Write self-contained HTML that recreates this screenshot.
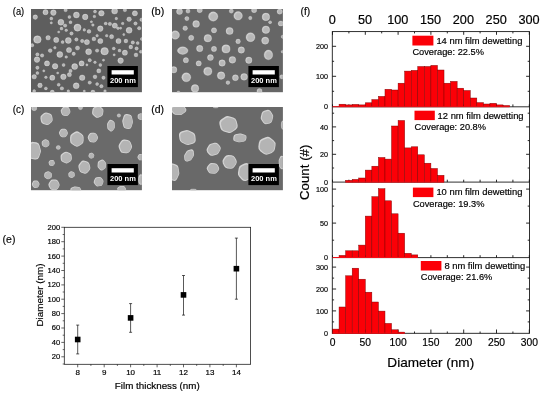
<!DOCTYPE html>
<html lang="en">
<head>
<meta charset="utf-8">
<title>Figure</title>
<style>
html,body{margin:0;padding:0;background:#fff;}
body{width:550px;height:394px;overflow:hidden;}
svg{display:block;font-family:"Liberation Sans",Arial,sans-serif;}
.pl text{stroke:#000;stroke-width:0.18px;}
</style>
</head>
<body>
<svg width="550" height="394" viewBox="0 0 550 394">
<rect width="550" height="394" fill="#fff"/>
<defs><filter id="bl" x="-5%" y="-5%" width="110%" height="110%"><feGaussianBlur stdDeviation="0.55"/></filter><radialGradient id="rg" cx="0.53" cy="0.53" r="0.5"><stop offset="0" stop-color="#b6b6b6"/><stop offset="0.65" stop-color="#bababa"/><stop offset="0.9" stop-color="#cdcdcd"/><stop offset="1" stop-color="#d6d6d6"/></radialGradient>
<clipPath id="cpa"><rect x="31" y="9" width="110.9" height="83.2"/></clipPath>
<clipPath id="cpb"><rect x="172" y="9" width="110.9" height="83.2"/></clipPath>
<clipPath id="cpc"><rect x="31" y="107" width="110.9" height="83.2"/></clipPath>
<clipPath id="cpd"><rect x="172" y="107" width="110.9" height="83.2"/></clipPath>
</defs>
<rect x="31" y="9" width="110.9" height="83.2" fill="#5e5e5e"/>
<g clip-path="url(#cpa)"><g filter="url(#bl)" fill="url(#rg)" stroke="#cfcfcf" stroke-width="0.3">
<ellipse cx="45.5" cy="12.2" rx="2.6" ry="2.6"/>
<ellipse cx="53.4" cy="12.6" rx="2.8" ry="2.8"/>
<ellipse cx="35.3" cy="17.1" rx="2.3" ry="2.3"/>
<ellipse cx="65.6" cy="10.1" rx="1.7" ry="1.7"/>
<ellipse cx="76.4" cy="15.0" rx="3.0" ry="3.0"/>
<ellipse cx="85.2" cy="16.9" rx="2.8" ry="2.8"/>
<ellipse cx="95.0" cy="11.6" rx="1.5" ry="1.5"/>
<ellipse cx="101.4" cy="13.3" rx="2.8" ry="2.8"/>
<ellipse cx="114.6" cy="11.1" rx="3.0" ry="3.0"/>
<ellipse cx="124.9" cy="10.1" rx="1.7" ry="1.7"/>
<ellipse cx="134.9" cy="13.3" rx="2.6" ry="2.6"/>
<ellipse cx="51.3" cy="18.6" rx="1.5" ry="1.5"/>
<ellipse cx="69.4" cy="16.9" rx="1.5" ry="1.5"/>
<ellipse cx="94.4" cy="16.5" rx="1.3" ry="1.3"/>
<ellipse cx="116.3" cy="18.6" rx="1.3" ry="1.3"/>
<ellipse cx="129.1" cy="19.2" rx="2.3" ry="2.3"/>
<ellipse cx="141.5" cy="19.7" rx="1.7" ry="1.7"/>
<ellipse cx="60.9" cy="22.2" rx="3.0" ry="3.0"/>
<ellipse cx="70.5" cy="22.2" rx="1.5" ry="1.5"/>
<ellipse cx="77.5" cy="27.6" rx="3.6" ry="3.6"/>
<ellipse cx="91.4" cy="21.8" rx="1.1" ry="1.1"/>
<ellipse cx="92.9" cy="25.0" rx="1.3" ry="1.3"/>
<ellipse cx="100.3" cy="28.6" rx="2.8" ry="2.8"/>
<ellipse cx="105.7" cy="23.5" rx="1.5" ry="1.5"/>
<ellipse cx="109.9" cy="23.9" rx="1.7" ry="1.7"/>
<ellipse cx="114.8" cy="25.6" rx="2.6" ry="2.6"/>
<ellipse cx="122.7" cy="23.5" rx="1.3" ry="1.3"/>
<ellipse cx="129.1" cy="30.3" rx="3.0" ry="3.0"/>
<ellipse cx="135.5" cy="23.5" rx="1.7" ry="1.7"/>
<ellipse cx="139.2" cy="28.2" rx="1.7" ry="1.7"/>
<ellipse cx="51.3" cy="22.9" rx="1.1" ry="1.1"/>
<ellipse cx="65.1" cy="25.6" rx="1.7" ry="1.7"/>
<ellipse cx="61.5" cy="28.6" rx="1.5" ry="1.5"/>
<ellipse cx="84.3" cy="29.9" rx="1.3" ry="1.3"/>
<ellipse cx="89.0" cy="31.4" rx="1.9" ry="1.9"/>
<ellipse cx="66.2" cy="30.3" rx="1.3" ry="1.3"/>
<ellipse cx="71.5" cy="33.5" rx="1.7" ry="1.7"/>
<ellipse cx="58.7" cy="32.0" rx="1.1" ry="1.1"/>
<ellipse cx="120.6" cy="28.2" rx="1.1" ry="1.1"/>
<ellipse cx="118.0" cy="28.2" rx="1.3" ry="1.3"/>
<ellipse cx="37.4" cy="39.5" rx="3.8" ry="3.8"/>
<ellipse cx="48.1" cy="37.8" rx="2.3" ry="2.3"/>
<ellipse cx="56.2" cy="39.9" rx="2.6" ry="2.6"/>
<ellipse cx="62.6" cy="42.1" rx="1.5" ry="1.5"/>
<ellipse cx="68.3" cy="40.4" rx="3.0" ry="3.0"/>
<ellipse cx="76.4" cy="39.5" rx="1.7" ry="1.7"/>
<ellipse cx="82.2" cy="41.0" rx="1.7" ry="1.7"/>
<ellipse cx="86.9" cy="42.1" rx="2.6" ry="2.6"/>
<ellipse cx="93.9" cy="38.9" rx="1.9" ry="1.9"/>
<ellipse cx="100.3" cy="41.0" rx="2.6" ry="2.6"/>
<ellipse cx="97.1" cy="35.7" rx="1.3" ry="1.3"/>
<ellipse cx="106.7" cy="35.7" rx="1.3" ry="1.3"/>
<ellipse cx="111.6" cy="36.7" rx="2.1" ry="2.1"/>
<ellipse cx="118.5" cy="41.0" rx="2.6" ry="2.6"/>
<ellipse cx="125.9" cy="41.0" rx="1.9" ry="1.9"/>
<ellipse cx="132.8" cy="42.5" rx="1.7" ry="1.7"/>
<ellipse cx="137.7" cy="43.1" rx="1.5" ry="1.5"/>
<ellipse cx="123.8" cy="34.6" rx="1.1" ry="1.1"/>
<ellipse cx="141.9" cy="38.9" rx="1.5" ry="1.5"/>
<ellipse cx="32.1" cy="45.3" rx="1.7" ry="1.7"/>
<ellipse cx="50.2" cy="50.6" rx="1.9" ry="1.9"/>
<ellipse cx="54.9" cy="47.8" rx="1.3" ry="1.3"/>
<ellipse cx="59.8" cy="54.4" rx="3.0" ry="3.0"/>
<ellipse cx="69.0" cy="50.0" rx="2.6" ry="2.6"/>
<ellipse cx="73.7" cy="53.8" rx="1.7" ry="1.7"/>
<ellipse cx="77.5" cy="48.0" rx="2.1" ry="2.1"/>
<ellipse cx="88.6" cy="51.7" rx="3.0" ry="3.0"/>
<ellipse cx="97.1" cy="50.6" rx="1.7" ry="1.7"/>
<ellipse cx="104.6" cy="51.2" rx="3.8" ry="3.8"/>
<ellipse cx="113.8" cy="48.5" rx="1.5" ry="1.5"/>
<ellipse cx="119.5" cy="50.6" rx="1.5" ry="1.5"/>
<ellipse cx="124.9" cy="52.7" rx="2.6" ry="2.6"/>
<ellipse cx="130.8" cy="47.0" rx="1.9" ry="1.9"/>
<ellipse cx="136.6" cy="48.5" rx="1.7" ry="1.7"/>
<ellipse cx="136.0" cy="54.9" rx="1.9" ry="1.9"/>
<ellipse cx="140.9" cy="51.7" rx="1.5" ry="1.5"/>
<ellipse cx="37.4" cy="54.4" rx="1.7" ry="1.7"/>
<ellipse cx="42.1" cy="55.5" rx="1.7" ry="1.7"/>
<ellipse cx="66.2" cy="57.0" rx="1.3" ry="1.3"/>
<ellipse cx="114.2" cy="54.9" rx="1.1" ry="1.1"/>
<ellipse cx="37.0" cy="59.6" rx="2.8" ry="2.8"/>
<ellipse cx="47.0" cy="63.4" rx="2.6" ry="2.6"/>
<ellipse cx="55.1" cy="66.2" rx="2.8" ry="2.8"/>
<ellipse cx="63.6" cy="64.9" rx="1.5" ry="1.5"/>
<ellipse cx="74.7" cy="66.6" rx="3.0" ry="3.0"/>
<ellipse cx="81.6" cy="63.4" rx="2.6" ry="2.6"/>
<ellipse cx="89.7" cy="60.2" rx="1.7" ry="1.7"/>
<ellipse cx="95.0" cy="62.3" rx="1.3" ry="1.3"/>
<ellipse cx="100.3" cy="64.9" rx="1.5" ry="1.5"/>
<ellipse cx="70.5" cy="70.9" rx="1.7" ry="1.7"/>
<ellipse cx="120.6" cy="60.6" rx="2.8" ry="2.8"/>
<ellipse cx="37.4" cy="67.7" rx="1.7" ry="1.7"/>
<ellipse cx="86.9" cy="64.9" rx="1.1" ry="1.1"/>
<ellipse cx="103.5" cy="60.2" rx="1.1" ry="1.1"/>
<ellipse cx="34.2" cy="76.8" rx="2.3" ry="2.3"/>
<ellipse cx="37.4" cy="73.0" rx="1.5" ry="1.5"/>
<ellipse cx="45.9" cy="77.3" rx="1.3" ry="1.3"/>
<ellipse cx="52.3" cy="77.7" rx="2.6" ry="2.6"/>
<ellipse cx="63.4" cy="76.8" rx="2.8" ry="2.8"/>
<ellipse cx="69.4" cy="74.7" rx="2.1" ry="2.1"/>
<ellipse cx="82.2" cy="77.7" rx="2.8" ry="2.8"/>
<ellipse cx="95.0" cy="76.8" rx="1.9" ry="1.9"/>
<ellipse cx="98.8" cy="70.9" rx="2.1" ry="2.1"/>
<ellipse cx="103.5" cy="77.7" rx="1.7" ry="1.7"/>
<ellipse cx="89.7" cy="82.6" rx="1.7" ry="1.7"/>
<ellipse cx="43.8" cy="70.9" rx="1.1" ry="1.1"/>
<ellipse cx="57.7" cy="73.0" rx="1.1" ry="1.1"/>
<ellipse cx="40.0" cy="85.4" rx="2.3" ry="2.3"/>
<ellipse cx="45.9" cy="88.4" rx="1.5" ry="1.5"/>
<ellipse cx="52.3" cy="92.2" rx="2.1" ry="2.1"/>
<ellipse cx="58.7" cy="84.7" rx="1.5" ry="1.5"/>
<ellipse cx="61.9" cy="88.4" rx="1.7" ry="1.7"/>
<ellipse cx="76.2" cy="85.8" rx="3.0" ry="3.0"/>
<ellipse cx="97.1" cy="84.1" rx="1.5" ry="1.5"/>
<ellipse cx="101.4" cy="86.2" rx="1.7" ry="1.7"/>
<ellipse cx="105.0" cy="91.1" rx="1.3" ry="1.3"/>
<ellipse cx="34.2" cy="91.1" rx="1.5" ry="1.5"/>
<ellipse cx="68.3" cy="91.1" rx="1.3" ry="1.3"/>
<ellipse cx="92.9" cy="92.2" rx="2.1" ry="2.1"/>
<ellipse cx="84.3" cy="91.1" rx="1.1" ry="1.1"/>
</g></g>
<rect x="107.4" y="66.0" width="30.5" height="21.1" fill="#000"/>
<rect x="111.6" y="70.2" width="22.2" height="4.3" fill="#fff"/>
<text x="122.9" y="83.0" font-size="7.5" font-weight="bold" fill="#fff" text-anchor="middle">200 nm</text>
<text x="12.8" y="15.0" font-size="10" fill="#000" stroke="#000" stroke-width="0.15" textLength="11.4" lengthAdjust="spacingAndGlyphs">(a)</text>
<rect x="172" y="9" width="110.9" height="83.2" fill="#666"/>
<g clip-path="url(#cpb)"><g filter="url(#bl)" fill="url(#rg)" stroke="#cfcfcf" stroke-width="0.3">
<ellipse cx="179.5" cy="11.6" rx="3.0" ry="3.0"/>
<ellipse cx="188.0" cy="11.1" rx="2.1" ry="2.1"/>
<ellipse cx="199.7" cy="10.1" rx="2.6" ry="2.6"/>
<ellipse cx="213.2" cy="16.5" rx="4.7" ry="4.7"/>
<ellipse cx="231.3" cy="11.1" rx="2.1" ry="2.1"/>
<ellipse cx="238.1" cy="15.8" rx="4.3" ry="4.3"/>
<ellipse cx="250.3" cy="18.0" rx="1.7" ry="1.7"/>
<ellipse cx="254.1" cy="10.1" rx="2.6" ry="2.6"/>
<ellipse cx="265.9" cy="16.9" rx="3.8" ry="3.8"/>
<ellipse cx="270.1" cy="22.2" rx="1.5" ry="1.5"/>
<ellipse cx="279.7" cy="11.6" rx="2.6" ry="2.6"/>
<ellipse cx="280.8" cy="23.5" rx="2.6" ry="2.6"/>
<ellipse cx="186.9" cy="18.6" rx="2.1" ry="2.1"/>
<ellipse cx="196.1" cy="23.9" rx="3.4" ry="3.4"/>
<ellipse cx="185.2" cy="28.2" rx="2.3" ry="2.3"/>
<ellipse cx="175.2" cy="35.0" rx="4.3" ry="4.3"/>
<ellipse cx="191.2" cy="37.8" rx="2.6" ry="2.6"/>
<ellipse cx="214.0" cy="30.3" rx="2.6" ry="2.6"/>
<ellipse cx="229.6" cy="31.0" rx="3.6" ry="3.6"/>
<ellipse cx="207.8" cy="38.2" rx="3.8" ry="3.8"/>
<ellipse cx="238.1" cy="41.4" rx="2.3" ry="2.3"/>
<ellipse cx="250.5" cy="37.2" rx="4.5" ry="4.5"/>
<ellipse cx="265.9" cy="29.7" rx="3.8" ry="3.8"/>
<ellipse cx="265.2" cy="40.6" rx="3.6" ry="3.6"/>
<ellipse cx="282.9" cy="36.7" rx="1.7" ry="1.7"/>
<ellipse cx="182.7" cy="50.6" rx="5.3" ry="3.8"/>
<ellipse cx="199.7" cy="48.5" rx="3.2" ry="3.2"/>
<ellipse cx="214.0" cy="48.9" rx="2.6" ry="2.6"/>
<ellipse cx="226.0" cy="48.9" rx="4.1" ry="4.1"/>
<ellipse cx="241.3" cy="50.0" rx="3.2" ry="3.2"/>
<ellipse cx="268.4" cy="54.9" rx="4.3" ry="4.9"/>
<ellipse cx="185.9" cy="60.2" rx="2.6" ry="2.6"/>
<ellipse cx="198.7" cy="63.4" rx="2.6" ry="2.6"/>
<ellipse cx="210.4" cy="57.6" rx="3.0" ry="3.0"/>
<ellipse cx="222.1" cy="63.0" rx="3.2" ry="3.2"/>
<ellipse cx="232.4" cy="59.8" rx="3.4" ry="3.4"/>
<ellipse cx="248.8" cy="60.2" rx="3.2" ry="3.2"/>
<ellipse cx="173.7" cy="69.8" rx="3.2" ry="3.2"/>
<ellipse cx="186.3" cy="77.3" rx="4.5" ry="4.5"/>
<ellipse cx="207.8" cy="71.3" rx="4.1" ry="4.1"/>
<ellipse cx="221.1" cy="75.6" rx="3.8" ry="3.8"/>
<ellipse cx="227.9" cy="82.6" rx="1.9" ry="1.9"/>
<ellipse cx="235.4" cy="77.7" rx="3.0" ry="3.0"/>
<ellipse cx="244.1" cy="76.8" rx="3.4" ry="3.4"/>
<ellipse cx="195.0" cy="88.4" rx="3.8" ry="3.8"/>
<ellipse cx="178.4" cy="92.6" rx="1.7" ry="1.7"/>
<ellipse cx="259.5" cy="91.1" rx="2.6" ry="2.6"/>
<ellipse cx="281.9" cy="76.8" rx="2.1" ry="2.1"/>
<ellipse cx="282.5" cy="51.7" rx="1.3" ry="1.3"/>
</g></g>
<rect x="248.4" y="66.0" width="30.5" height="21.1" fill="#000"/>
<rect x="252.6" y="70.2" width="22.2" height="4.3" fill="#fff"/>
<text x="263.9" y="83.0" font-size="7.5" font-weight="bold" fill="#fff" text-anchor="middle">200 nm</text>
<text x="151.2" y="15.0" font-size="10" fill="#000" stroke="#000" stroke-width="0.15" textLength="13.0" lengthAdjust="spacingAndGlyphs">(b)</text>
<rect x="31" y="107" width="110.9" height="83.2" fill="#6a6a6a"/>
<g clip-path="url(#cpc)"><g filter="url(#bl)" fill="url(#rg)" stroke="#cfcfcf" stroke-width="0.3">
<polygon points="49.1,119.6 47.1,121.4 44.5,120.5 44.0,117.8 46.1,116.1 48.6,117.0" stroke="#d4d4d4" fill="#d4d4d4" stroke-width="7.2" stroke-linejoin="round"/>
<polygon points="49.0,119.7 47.2,121.2 45.1,120.4 44.6,118.2 46.4,116.7 48.6,117.4" stroke="#b4b4b4" fill="#b4b4b4" stroke-width="6.2" stroke-linejoin="round"/>
<polygon points="67.6,111.6 66.3,113.2 64.2,112.9 63.5,110.9 64.8,109.3 66.9,109.6" stroke="#d4d4d4" fill="#d4d4d4" stroke-width="5.6" stroke-linejoin="round"/>
<polygon points="67.6,111.8 66.5,113.2 64.7,112.9 64.0,111.2 65.2,109.8 67.0,110.1" stroke="#b4b4b4" fill="#b4b4b4" stroke-width="4.8" stroke-linejoin="round"/>
<polygon points="99.7,113.4 97.4,114.4 95.4,112.7 95.8,110.0 98.2,109.0 100.1,110.7" stroke="#d4d4d4" fill="#d4d4d4" stroke-width="6.7" stroke-linejoin="round"/>
<polygon points="99.7,113.4 97.7,114.2 96.0,112.7 96.4,110.4 98.4,109.6 100.0,111.1" stroke="#b4b4b4" fill="#b4b4b4" stroke-width="5.7" stroke-linejoin="round"/>
<ellipse cx="118.9" cy="115.5" rx="1.7" ry="1.7"/>
<polygon points="129.9,121.9 128.6,126.0 126.3,125.6 125.3,121.1 126.6,117.0 128.9,117.4" stroke="#d4d4d4" fill="#d4d4d4" stroke-width="6.1" stroke-linejoin="round"/>
<polygon points="129.9,122.0 128.7,125.6 126.8,125.3 125.9,121.4 127.0,117.8 129.0,118.2" stroke="#b4b4b4" fill="#b4b4b4" stroke-width="5.3" stroke-linejoin="round"/>
<polygon points="142.1,117.4 140.8,118.0 139.6,117.3 139.6,115.8 140.9,115.2 142.1,115.9" stroke="#d4d4d4" fill="#d4d4d4" stroke-width="3.8" stroke-linejoin="round"/>
<polygon points="142.2,117.5 141.1,118.0 140.0,117.4 140.1,116.1 141.2,115.6 142.2,116.2" stroke="#b4b4b4" fill="#b4b4b4" stroke-width="3.3" stroke-linejoin="round"/>
<polygon points="112.6,126.9 111.2,129.0 109.6,127.7 109.4,124.2 110.8,122.1 112.4,123.4" stroke="#d4d4d4" fill="#d4d4d4" stroke-width="4.6" stroke-linejoin="round"/>
<polygon points="112.6,126.9 111.5,128.8 110.1,127.6 109.9,124.6 111.0,122.8 112.4,123.9" stroke="#b4b4b4" fill="#b4b4b4" stroke-width="4.0" stroke-linejoin="round"/>
<polygon points="65.3,133.1 64.3,134.7 62.4,134.6 61.5,132.9 62.6,131.3 64.5,131.4" stroke="#d4d4d4" fill="#d4d4d4" stroke-width="5.1" stroke-linejoin="round"/>
<polygon points="65.3,133.3 64.4,134.7 62.8,134.6 62.0,133.1 62.9,131.7 64.6,131.8" stroke="#b4b4b4" fill="#b4b4b4" stroke-width="4.4" stroke-linejoin="round"/>
<polygon points="79.5,140.8 76.8,142.5 74.2,140.7 74.2,137.2 76.9,135.5 79.5,137.3" stroke="#d4d4d4" fill="#d4d4d4" stroke-width="8.2" stroke-linejoin="round"/>
<polygon points="79.4,140.7 77.1,142.2 74.8,140.7 74.8,137.7 77.1,136.2 79.4,137.7" stroke="#b4b4b4" fill="#b4b4b4" stroke-width="7.0" stroke-linejoin="round"/>
<polygon points="95.1,137.6 93.9,139.5 91.7,139.4 90.7,137.4 91.8,135.6 94.0,135.6" stroke="#d4d4d4" fill="#d4d4d4" stroke-width="5.9" stroke-linejoin="round"/>
<polygon points="95.0,137.8 94.0,139.4 92.1,139.3 91.2,137.6 92.2,136.0 94.1,136.1" stroke="#b4b4b4" fill="#b4b4b4" stroke-width="5.1" stroke-linejoin="round"/>
<polygon points="47.1,144.0 45.6,145.0 44.1,144.2 44.0,142.5 45.4,141.5 46.9,142.3" stroke="#d4d4d4" fill="#d4d4d4" stroke-width="4.6" stroke-linejoin="round"/>
<polygon points="47.1,144.1 45.9,144.9 44.5,144.3 44.4,142.8 45.7,142.0 47.0,142.6" stroke="#b4b4b4" fill="#b4b4b4" stroke-width="4.0" stroke-linejoin="round"/>
<ellipse cx="58.3" cy="147.5" rx="2.1" ry="2.1"/>
<polygon points="37.1,151.1 35.5,155.7 32.6,155.3 31.3,150.3 32.9,145.7 35.8,146.1" stroke="#d4d4d4" fill="#d4d4d4" stroke-width="7.7" stroke-linejoin="round"/>
<polygon points="36.9,151.3 35.5,155.2 33.1,154.9 32.0,150.6 33.4,146.6 35.8,147.0" stroke="#b4b4b4" fill="#b4b4b4" stroke-width="6.6" stroke-linejoin="round"/>
<polygon points="128.2,146.8 126.5,149.5 123.6,149.2 122.4,146.2 124.1,143.4 127.0,143.8" stroke="#d4d4d4" fill="#d4d4d4" stroke-width="7.7" stroke-linejoin="round"/>
<polygon points="128.0,146.9 126.6,149.3 124.1,149.0 123.1,146.4 124.5,144.1 127.0,144.3" stroke="#b4b4b4" fill="#b4b4b4" stroke-width="6.6" stroke-linejoin="round"/>
<polygon points="68.5,158.6 66.4,160.0 64.1,159.0 63.9,156.5 66.0,155.1 68.3,156.1" stroke="#d4d4d4" fill="#d4d4d4" stroke-width="6.7" stroke-linejoin="round"/>
<polygon points="68.4,158.7 66.6,159.9 64.7,159.0 64.5,156.8 66.3,155.6 68.2,156.5" stroke="#b4b4b4" fill="#b4b4b4" stroke-width="5.7" stroke-linejoin="round"/>
<polygon points="92.2,156.6 91.0,156.8 90.1,155.9 90.6,154.7 91.8,154.5 92.6,155.4" stroke="#d4d4d4" fill="#d4d4d4" stroke-width="3.3" stroke-linejoin="round"/>
<polygon points="92.3,156.7 91.3,156.9 90.6,156.0 90.9,155.0 92.0,154.8 92.7,155.6" stroke="#b4b4b4" fill="#b4b4b4" stroke-width="2.9" stroke-linejoin="round"/>
<polygon points="53.0,163.1 52.2,164.1 50.9,164.0 50.4,162.7 51.2,161.7 52.5,161.8" stroke="#d4d4d4" fill="#d4d4d4" stroke-width="3.6" stroke-linejoin="round"/>
<polygon points="53.1,163.2 52.4,164.2 51.2,164.0 50.8,162.9 51.5,162.0 52.6,162.2" stroke="#b4b4b4" fill="#b4b4b4" stroke-width="3.1" stroke-linejoin="round"/>
<polygon points="86.9,167.9 85.1,170.3 82.6,169.5 81.8,166.4 83.6,164.0 86.1,164.8" stroke="#d4d4d4" fill="#d4d4d4" stroke-width="6.9" stroke-linejoin="round"/>
<polygon points="86.8,168.0 85.2,170.0 83.1,169.4 82.4,166.7 83.9,164.7 86.1,165.3" stroke="#b4b4b4" fill="#b4b4b4" stroke-width="5.9" stroke-linejoin="round"/>
<polygon points="103.3,166.7 101.6,167.8 100.1,166.1 100.3,163.3 102.1,162.2 103.6,164.0" stroke="#d4d4d4" fill="#d4d4d4" stroke-width="5.1" stroke-linejoin="round"/>
<polygon points="103.4,166.7 101.9,167.6 100.5,166.1 100.8,163.7 102.3,162.8 103.6,164.3" stroke="#b4b4b4" fill="#b4b4b4" stroke-width="4.4" stroke-linejoin="round"/>
<polygon points="141.7,158.3 140.2,158.4 139.4,157.2 140.1,155.9 141.5,155.8 142.3,157.1" stroke="#d4d4d4" fill="#d4d4d4" stroke-width="3.8" stroke-linejoin="round"/>
<polygon points="141.8,158.4 140.6,158.4 139.9,157.4 140.4,156.3 141.7,156.2 142.4,157.3" stroke="#b4b4b4" fill="#b4b4b4" stroke-width="3.3" stroke-linejoin="round"/>
<polygon points="49.5,176.2 47.9,177.0 46.5,176.0 46.6,174.3 48.2,173.5 49.6,174.5" stroke="#d4d4d4" fill="#d4d4d4" stroke-width="4.6" stroke-linejoin="round"/>
<polygon points="49.5,176.3 48.2,176.9 47.0,176.1 47.1,174.6 48.4,174.0 49.7,174.8" stroke="#b4b4b4" fill="#b4b4b4" stroke-width="4.0" stroke-linejoin="round"/>
<polygon points="72.9,175.2 71.7,176.1 70.4,175.5 70.2,174.0 71.4,173.2 72.7,173.8" stroke="#d4d4d4" fill="#d4d4d4" stroke-width="3.8" stroke-linejoin="round"/>
<polygon points="72.9,175.3 71.9,176.1 70.8,175.6 70.7,174.3 71.6,173.6 72.8,174.1" stroke="#b4b4b4" fill="#b4b4b4" stroke-width="3.3" stroke-linejoin="round"/>
<polygon points="36.5,185.6 34.9,185.7 34.1,184.3 34.8,182.8 36.5,182.8 37.3,184.2" stroke="#d4d4d4" fill="#d4d4d4" stroke-width="4.4" stroke-linejoin="round"/>
<polygon points="36.7,185.6 35.3,185.7 34.5,184.5 35.2,183.2 36.6,183.2 37.3,184.4" stroke="#b4b4b4" fill="#b4b4b4" stroke-width="3.7" stroke-linejoin="round"/>
<polygon points="56.4,185.0 55.1,187.0 52.7,186.9 51.6,184.7 52.9,182.7 55.3,182.8" stroke="#d4d4d4" fill="#d4d4d4" stroke-width="6.4" stroke-linejoin="round"/>
<polygon points="56.4,185.2 55.2,186.9 53.2,186.8 52.2,185.0 53.3,183.2 55.4,183.3" stroke="#b4b4b4" fill="#b4b4b4" stroke-width="5.5" stroke-linejoin="round"/>
<polygon points="99.9,183.3 97.9,183.6 96.5,182.0 97.3,180.0 99.4,179.7 100.7,181.4" stroke="#d4d4d4" fill="#d4d4d4" stroke-width="5.6" stroke-linejoin="round"/>
<polygon points="100.0,183.3 98.2,183.6 97.1,182.1 97.7,180.4 99.5,180.2 100.7,181.6" stroke="#b4b4b4" fill="#b4b4b4" stroke-width="4.8" stroke-linejoin="round"/>
<polygon points="79.3,190.2 76.6,191.2 73.1,190.7 72.3,189.3 75.0,188.4 78.5,188.8" stroke="#d4d4d4" fill="#d4d4d4" stroke-width="3.8" stroke-linejoin="round"/>
<polygon points="79.1,190.3 76.7,191.2 73.7,190.8 73.0,189.6 75.4,188.8 78.4,189.1" stroke="#b4b4b4" fill="#b4b4b4" stroke-width="3.3" stroke-linejoin="round"/>
<ellipse cx="34.2" cy="108.1" rx="2.6" ry="2.6"/>
<ellipse cx="80.5" cy="107.6" rx="2.1" ry="2.1"/>
<polygon points="124.2,189.4 122.6,190.5 120.1,190.3 119.1,188.9 120.7,187.8 123.3,188.0" stroke="#d4d4d4" fill="#d4d4d4" stroke-width="3.8" stroke-linejoin="round"/>
<polygon points="124.1,189.5 122.7,190.5 120.5,190.3 119.7,189.1 121.1,188.2 123.3,188.4" stroke="#b4b4b4" fill="#b4b4b4" stroke-width="3.3" stroke-linejoin="round"/>
<ellipse cx="140.9" cy="179.5" rx="2.6" ry="5.3"/>
</g></g>
<rect x="107.4" y="164.0" width="30.5" height="21.1" fill="#000"/>
<rect x="111.6" y="168.2" width="22.2" height="4.3" fill="#fff"/>
<text x="122.9" y="181.0" font-size="7.5" font-weight="bold" fill="#fff" text-anchor="middle">200 nm</text>
<text x="12.8" y="113.0" font-size="10" fill="#000" stroke="#000" stroke-width="0.15" textLength="11.6" lengthAdjust="spacingAndGlyphs">(c)</text>
<rect x="172" y="107" width="110.9" height="83.2" fill="#696969"/>
<g clip-path="url(#cpd)"><g filter="url(#bl)" fill="url(#rg)" stroke="#cfcfcf" stroke-width="0.3">
<polygon points="183.0,109.9 180.2,111.8 175.6,111.5 173.8,109.3 176.6,107.3 181.2,107.6" stroke="#d4d4d4" fill="#d4d4d4" stroke-width="6.4" stroke-linejoin="round"/>
<polygon points="182.6,110.0 180.2,111.7 176.2,111.4 174.7,109.5 177.1,107.9 181.1,108.1" stroke="#b4b4b4" fill="#b4b4b4" stroke-width="5.5" stroke-linejoin="round"/>
<polygon points="232.8,125.7 229.4,128.1 225.1,126.9 224.2,123.3 227.6,120.9 231.9,122.1" stroke="#d4d4d4" fill="#d4d4d4" stroke-width="9.7" stroke-linejoin="round"/>
<polygon points="232.5,125.7 229.6,127.8 225.9,126.8 225.1,123.7 228.0,121.6 231.7,122.6" stroke="#b4b4b4" fill="#b4b4b4" stroke-width="8.4" stroke-linejoin="round"/>
<polygon points="268.7,119.9 266.1,120.6 264.3,117.8 265.2,114.2 267.8,113.4 269.6,116.3" stroke="#d4d4d4" fill="#d4d4d4" stroke-width="7.2" stroke-linejoin="round"/>
<polygon points="268.7,119.7 266.4,120.3 264.9,117.9 265.7,114.8 267.9,114.1 269.5,116.6" stroke="#b4b4b4" fill="#b4b4b4" stroke-width="6.2" stroke-linejoin="round"/>
<polygon points="192.0,138.1 188.9,140.5 184.3,139.9 182.7,136.9 185.8,134.5 190.5,135.1" stroke="#d4d4d4" fill="#d4d4d4" stroke-width="8.4" stroke-linejoin="round" transform="rotate(20 187.4 137.5)"/>
<polygon points="191.6,138.2 188.9,140.3 184.9,139.8 183.6,137.2 186.3,135.1 190.3,135.6" stroke="#b4b4b4" fill="#b4b4b4" stroke-width="7.3" stroke-linejoin="round" transform="rotate(20 187.4 137.5)"/>
<polygon points="243.6,139.0 239.4,139.8 235.7,138.7 236.1,136.8 240.2,136.0 244.0,137.1" stroke="#d4d4d4" fill="#d4d4d4" stroke-width="5.1" stroke-linejoin="round"/>
<polygon points="243.3,139.1 239.8,139.8 236.5,138.8 236.8,137.2 240.4,136.5 243.7,137.4" stroke="#b4b4b4" fill="#b4b4b4" stroke-width="4.4" stroke-linejoin="round"/>
<polygon points="269.9,148.2 266.4,149.6 263.4,147.2 263.9,143.4 267.5,142.0 270.5,144.4" stroke="#d4d4d4" fill="#d4d4d4" stroke-width="10.2" stroke-linejoin="round"/>
<polygon points="269.8,148.1 266.7,149.3 264.1,147.2 264.6,144.0 267.7,142.8 270.3,144.8" stroke="#b4b4b4" fill="#b4b4b4" stroke-width="8.8" stroke-linejoin="round"/>
<polygon points="217.1,150.3 214.1,151.9 210.6,150.9 210.1,148.2 213.1,146.6 216.6,147.6" stroke="#d4d4d4" fill="#d4d4d4" stroke-width="7.2" stroke-linejoin="round" transform="rotate(-30 213.6 149.2)"/>
<polygon points="216.9,150.3 214.3,151.7 211.3,150.9 210.8,148.6 213.4,147.1 216.4,148.0" stroke="#b4b4b4" fill="#b4b4b4" stroke-width="6.2" stroke-linejoin="round" transform="rotate(-30 213.6 149.2)"/>
<polygon points="190.7,157.7 189.0,159.6 187.4,157.3 187.5,153.2 189.2,151.3 190.8,153.5" stroke="#d4d4d4" fill="#d4d4d4" stroke-width="5.1" stroke-linejoin="round" transform="rotate(30 189.1 155.4)"/>
<polygon points="190.7,157.6 189.2,159.2 187.8,157.3 187.9,153.7 189.4,152.1 190.8,154.0" stroke="#b4b4b4" fill="#b4b4b4" stroke-width="4.4" stroke-linejoin="round" transform="rotate(30 189.1 155.4)"/>
<polygon points="232.7,162.0 231.0,164.6 227.9,164.4 226.5,161.6 228.2,159.1 231.3,159.3" stroke="#d4d4d4" fill="#d4d4d4" stroke-width="8.2" stroke-linejoin="round"/>
<polygon points="232.5,162.2 231.0,164.4 228.4,164.2 227.2,161.9 228.7,159.7 231.3,159.8" stroke="#b4b4b4" fill="#b4b4b4" stroke-width="7.0" stroke-linejoin="round"/>
<polygon points="216.0,168.6 214.3,170.6 211.3,170.4 209.9,168.3 211.6,166.3 214.7,166.4" stroke="#d4d4d4" fill="#d4d4d4" stroke-width="6.4" stroke-linejoin="round"/>
<polygon points="215.8,168.8 214.4,170.5 211.7,170.4 210.6,168.5 212.0,166.8 214.7,166.9" stroke="#b4b4b4" fill="#b4b4b4" stroke-width="5.5" stroke-linejoin="round"/>
<polygon points="175.7,173.2 173.9,177.2 171.3,176.0 170.4,170.9 172.3,166.9 174.9,168.1" stroke="#d4d4d4" fill="#d4d4d4" stroke-width="7.2" stroke-linejoin="round"/>
<polygon points="175.6,173.3 174.0,176.7 171.8,175.7 171.1,171.3 172.6,167.9 174.9,168.9" stroke="#b4b4b4" fill="#b4b4b4" stroke-width="6.2" stroke-linejoin="round"/>
<polygon points="248.1,175.0 245.0,176.5 242.4,173.5 243.1,169.1 246.2,167.7 248.8,170.6" stroke="#d4d4d4" fill="#d4d4d4" stroke-width="9.0" stroke-linejoin="round"/>
<polygon points="248.0,174.8 245.3,176.1 243.1,173.5 243.7,169.7 246.4,168.5 248.6,171.0" stroke="#b4b4b4" fill="#b4b4b4" stroke-width="7.7" stroke-linejoin="round"/>
<polygon points="283.2,164.5 282.0,167.3 280.7,165.2 280.6,160.4 281.8,157.7 283.1,159.8" stroke="#d4d4d4" fill="#d4d4d4" stroke-width="3.8" stroke-linejoin="round"/>
<polygon points="283.2,164.5 282.2,166.8 281.1,165.0 281.0,160.9 282.0,158.6 283.1,160.3" stroke="#b4b4b4" fill="#b4b4b4" stroke-width="3.3" stroke-linejoin="round"/>
<ellipse cx="215.7" cy="107.0" rx="2.6" ry="1.1"/>
<ellipse cx="193.3" cy="190.2" rx="3.2" ry="1.3"/>
<ellipse cx="282.9" cy="125.1" rx="1.7" ry="4.3"/>
</g></g>
<rect x="248.4" y="164.0" width="30.5" height="21.1" fill="#000"/>
<rect x="252.6" y="168.2" width="22.2" height="4.3" fill="#fff"/>
<text x="263.9" y="181.0" font-size="7.5" font-weight="bold" fill="#fff" text-anchor="middle">200 nm</text>
<text x="151.2" y="113.0" font-size="10" fill="#000" stroke="#000" stroke-width="0.15" textLength="12.8" lengthAdjust="spacingAndGlyphs">(d)</text>
<g class="pl">
<text x="2.6" y="243.4" font-size="10.5" fill="#111">(e)</text>
<rect x="64.3" y="227.3" width="186.3" height="137.0" fill="none" stroke="#222" stroke-width="0.8"/>
<g stroke="#222" stroke-width="0.7">
<line x1="61.3" x2="64.3" y1="356.8" y2="356.8"/>
<line x1="61.3" x2="64.3" y1="342.4" y2="342.4"/>
<line x1="61.3" x2="64.3" y1="328.0" y2="328.0"/>
<line x1="61.3" x2="64.3" y1="313.6" y2="313.6"/>
<line x1="61.3" x2="64.3" y1="299.2" y2="299.2"/>
<line x1="61.3" x2="64.3" y1="284.9" y2="284.9"/>
<line x1="61.3" x2="64.3" y1="270.5" y2="270.5"/>
<line x1="61.3" x2="64.3" y1="256.1" y2="256.1"/>
<line x1="61.3" x2="64.3" y1="241.7" y2="241.7"/>
<line x1="61.3" x2="64.3" y1="227.3" y2="227.3"/>
<line x1="62.699999999999996" x2="64.3" y1="364.0" y2="364.0"/>
<line x1="62.699999999999996" x2="64.3" y1="349.6" y2="349.6"/>
<line x1="62.699999999999996" x2="64.3" y1="335.2" y2="335.2"/>
<line x1="62.699999999999996" x2="64.3" y1="320.8" y2="320.8"/>
<line x1="62.699999999999996" x2="64.3" y1="306.4" y2="306.4"/>
<line x1="62.699999999999996" x2="64.3" y1="292.0" y2="292.0"/>
<line x1="62.699999999999996" x2="64.3" y1="277.7" y2="277.7"/>
<line x1="62.699999999999996" x2="64.3" y1="263.3" y2="263.3"/>
<line x1="62.699999999999996" x2="64.3" y1="248.9" y2="248.9"/>
<line x1="62.699999999999996" x2="64.3" y1="234.5" y2="234.5"/>
<line y1="367.3" y2="364.3" x1="77.7" x2="77.7"/>
<line y1="367.3" y2="364.3" x1="104.2" x2="104.2"/>
<line y1="367.3" y2="364.3" x1="130.6" x2="130.6"/>
<line y1="367.3" y2="364.3" x1="157.1" x2="157.1"/>
<line y1="367.3" y2="364.3" x1="183.5" x2="183.5"/>
<line y1="367.3" y2="364.3" x1="209.9" x2="209.9"/>
<line y1="367.3" y2="364.3" x1="236.4" x2="236.4"/>
<line y1="365.90000000000003" y2="364.3" x1="90.9" x2="90.9"/>
<line y1="365.90000000000003" y2="364.3" x1="117.4" x2="117.4"/>
<line y1="365.90000000000003" y2="364.3" x1="143.8" x2="143.8"/>
<line y1="365.90000000000003" y2="364.3" x1="170.3" x2="170.3"/>
<line y1="365.90000000000003" y2="364.3" x1="196.7" x2="196.7"/>
<line y1="365.90000000000003" y2="364.3" x1="223.2" x2="223.2"/>
</g>
<g font-size="8" fill="#000">
<text transform="translate(60.3,359.2) scale(0.95,1)" text-anchor="end">20</text>
<text transform="translate(60.3,344.8) scale(0.95,1)" text-anchor="end">40</text>
<text transform="translate(60.3,330.4) scale(0.95,1)" text-anchor="end">60</text>
<text transform="translate(60.3,316.0) scale(0.95,1)" text-anchor="end">80</text>
<text transform="translate(60.3,301.6) scale(0.95,1)" text-anchor="end">100</text>
<text transform="translate(60.3,287.3) scale(0.95,1)" text-anchor="end">120</text>
<text transform="translate(60.3,272.9) scale(0.95,1)" text-anchor="end">140</text>
<text transform="translate(60.3,258.5) scale(0.95,1)" text-anchor="end">160</text>
<text transform="translate(60.3,244.1) scale(0.95,1)" text-anchor="end">180</text>
<text transform="translate(60.3,229.7) scale(0.95,1)" text-anchor="end">200</text>
<text x="77.7" y="374.8" text-anchor="middle">8</text>
<text x="104.2" y="374.8" text-anchor="middle">9</text>
<text x="130.6" y="374.8" text-anchor="middle">10</text>
<text x="157.1" y="374.8" text-anchor="middle">11</text>
<text x="183.5" y="374.8" text-anchor="middle">12</text>
<text x="209.9" y="374.8" text-anchor="middle">13</text>
<text x="236.4" y="374.8" text-anchor="middle">14</text>
</g>
<text x="157.3" y="389.4" font-size="9.8" fill="#000" text-anchor="middle">Film thickness (nm)</text>
<text transform="translate(43.2,295) rotate(-90) scale(1,0.86)" font-size="9.9" fill="#000" text-anchor="middle">Diameter (nm)</text>
<g stroke="#111" stroke-width="0.7" fill="#000">
<line x1="77.7" x2="77.7" y1="325.1" y2="353.9"/>
<line x1="76.2" x2="79.2" y1="325.1" y2="325.1"/>
<line x1="76.2" x2="79.2" y1="353.9" y2="353.9"/>
<rect x="74.9" y="336.7" width="5.6" height="5.6" stroke="none"/>
<line x1="130.6" x2="130.6" y1="303.6" y2="332.3"/>
<line x1="129.1" x2="132.1" y1="303.6" y2="303.6"/>
<line x1="129.1" x2="132.1" y1="332.3" y2="332.3"/>
<rect x="127.8" y="315.1" width="5.6" height="5.6" stroke="none"/>
<line x1="183.5" x2="183.5" y1="275.5" y2="315.1"/>
<line x1="182.0" x2="185.0" y1="275.5" y2="275.5"/>
<line x1="182.0" x2="185.0" y1="315.1" y2="315.1"/>
<rect x="180.7" y="292.1" width="5.6" height="5.6" stroke="none"/>
<line x1="236.4" x2="236.4" y1="238.1" y2="299.2"/>
<line x1="234.9" x2="237.9" y1="238.1" y2="238.1"/>
<line x1="234.9" x2="237.9" y1="299.2" y2="299.2"/>
<rect x="233.6" y="265.9" width="5.6" height="5.6" stroke="none"/>
</g>
<text x="300.5" y="14.5" font-size="10.3" fill="#111">(f)</text>
<rect x="332.3" y="31.6" width="197.2" height="301.7" fill="none" stroke="#1a1a1a" stroke-width="0.9"/>
<line x1="332.3" x2="529.5" y1="106.8" y2="106.8" stroke="#1a1a1a" stroke-width="0.9"/>
<line x1="332.3" x2="529.5" y1="182.1" y2="182.1" stroke="#1a1a1a" stroke-width="0.9"/>
<line x1="332.3" x2="529.5" y1="257.6" y2="257.6" stroke="#1a1a1a" stroke-width="0.9"/>
<g stroke="#111" stroke-width="0.9">
<line x1="332.3" x2="336.1" y1="76.3" y2="76.3"/>
<line x1="529.5" x2="526.1" y1="76.3" y2="76.3"/>
<line x1="332.3" x2="336.1" y1="46.3" y2="46.3"/>
<line x1="529.5" x2="526.1" y1="46.3" y2="46.3"/>
<line x1="332.3" x2="334.1" y1="91.3" y2="91.3"/>
<line x1="529.5" x2="527.7" y1="91.3" y2="91.3"/>
<line x1="332.3" x2="334.1" y1="61.3" y2="61.3"/>
<line x1="529.5" x2="527.7" y1="61.3" y2="61.3"/>
<line x1="332.5" x2="332.5" y1="31.6" y2="34.800000000000004"/>
<line x1="332.5" x2="332.5" y1="106.8" y2="104.39999999999999"/>
<line x1="348.9" x2="348.9" y1="31.6" y2="33.4"/>
<line x1="348.9" x2="348.9" y1="106.8" y2="104.39999999999999"/>
<line x1="365.3" x2="365.3" y1="31.6" y2="34.800000000000004"/>
<line x1="365.3" x2="365.3" y1="106.8" y2="104.39999999999999"/>
<line x1="381.7" x2="381.7" y1="31.6" y2="33.4"/>
<line x1="381.7" x2="381.7" y1="106.8" y2="104.39999999999999"/>
<line x1="398.1" x2="398.1" y1="31.6" y2="34.800000000000004"/>
<line x1="398.1" x2="398.1" y1="106.8" y2="104.39999999999999"/>
<line x1="414.5" x2="414.5" y1="31.6" y2="33.4"/>
<line x1="414.5" x2="414.5" y1="106.8" y2="104.39999999999999"/>
<line x1="430.9" x2="430.9" y1="31.6" y2="34.800000000000004"/>
<line x1="430.9" x2="430.9" y1="106.8" y2="104.39999999999999"/>
<line x1="447.3" x2="447.3" y1="31.6" y2="33.4"/>
<line x1="447.3" x2="447.3" y1="106.8" y2="104.39999999999999"/>
<line x1="463.7" x2="463.7" y1="31.6" y2="34.800000000000004"/>
<line x1="463.7" x2="463.7" y1="106.8" y2="104.39999999999999"/>
<line x1="480.1" x2="480.1" y1="31.6" y2="33.4"/>
<line x1="480.1" x2="480.1" y1="106.8" y2="104.39999999999999"/>
<line x1="496.5" x2="496.5" y1="31.6" y2="34.800000000000004"/>
<line x1="496.5" x2="496.5" y1="106.8" y2="104.39999999999999"/>
<line x1="512.9" x2="512.9" y1="31.6" y2="33.4"/>
<line x1="512.9" x2="512.9" y1="106.8" y2="104.39999999999999"/>
<line x1="529.3" x2="529.3" y1="31.6" y2="34.800000000000004"/>
<line x1="529.3" x2="529.3" y1="106.8" y2="104.39999999999999"/>
</g>
<g fill="#fb0007" stroke="#7a0000" stroke-width="0.45">
<rect x="339.06" y="104.20" width="6.56" height="2.60"/>
<rect x="345.62" y="104.90" width="6.56" height="1.90"/>
<rect x="352.18" y="104.40" width="6.56" height="2.40"/>
<rect x="358.74" y="104.90" width="6.56" height="1.90"/>
<rect x="365.30" y="102.80" width="6.56" height="4.00"/>
<rect x="371.86" y="99.60" width="6.56" height="7.20"/>
<rect x="378.42" y="96.40" width="6.56" height="10.40"/>
<rect x="384.98" y="89.30" width="6.56" height="17.50"/>
<rect x="391.54" y="90.00" width="6.56" height="16.80"/>
<rect x="398.10" y="83.20" width="6.56" height="23.60"/>
<rect x="404.66" y="71.10" width="6.56" height="35.70"/>
<rect x="411.22" y="70.40" width="6.56" height="36.40"/>
<rect x="417.78" y="66.50" width="6.56" height="40.30"/>
<rect x="424.34" y="66.50" width="6.56" height="40.30"/>
<rect x="430.90" y="65.40" width="6.56" height="41.40"/>
<rect x="437.46" y="70.00" width="6.56" height="36.80"/>
<rect x="444.02" y="83.20" width="6.56" height="23.60"/>
<rect x="450.58" y="81.40" width="6.56" height="25.40"/>
<rect x="457.14" y="88.20" width="6.56" height="18.60"/>
<rect x="463.70" y="90.50" width="6.56" height="16.30"/>
<rect x="470.26" y="98.00" width="6.56" height="8.80"/>
<rect x="476.82" y="102.60" width="6.56" height="4.20"/>
<rect x="483.38" y="104.00" width="6.56" height="2.80"/>
<rect x="489.94" y="103.30" width="6.56" height="3.50"/>
<rect x="496.50" y="104.90" width="6.56" height="1.90"/>
<rect x="503.06" y="105.50" width="6.56" height="1.30"/>
</g>
<line x1="332.5" x2="509.6" y1="106.7" y2="106.7" stroke="#f01018" stroke-width="1"/>
<g font-size="8" fill="#000" text-anchor="end">
<text transform="translate(327.9,109.2) scale(0.9,1)">0</text>
<text transform="translate(327.9,79.2) scale(0.9,1)">100</text>
<text transform="translate(327.9,49.2) scale(0.9,1)">200</text>
</g>
<rect x="412.4" y="35.7" width="21" height="9.8" fill="#fb0007"/>
<text x="436.4" y="44.0" font-size="9.4" fill="#000">14 nm film dewetting</text>
<text x="412.4" y="55.1" font-size="9.25" fill="#000">Coverage: 22.5%</text>
<g stroke="#111" stroke-width="0.9">
<line x1="332.3" x2="336.1" y1="154.3" y2="154.3"/>
<line x1="529.5" x2="526.1" y1="154.3" y2="154.3"/>
<line x1="332.3" x2="336.1" y1="126.9" y2="126.9"/>
<line x1="529.5" x2="526.1" y1="126.9" y2="126.9"/>
<line x1="332.3" x2="334.1" y1="168.0" y2="168.0"/>
<line x1="529.5" x2="527.7" y1="168.0" y2="168.0"/>
<line x1="332.3" x2="334.1" y1="140.6" y2="140.6"/>
<line x1="529.5" x2="527.7" y1="140.6" y2="140.6"/>
<line x1="332.3" x2="334.1" y1="113.2" y2="113.2"/>
<line x1="529.5" x2="527.7" y1="113.2" y2="113.2"/>
<line x1="332.5" x2="332.5" y1="182.1" y2="179.7"/>
<line x1="348.9" x2="348.9" y1="182.1" y2="179.7"/>
<line x1="365.3" x2="365.3" y1="182.1" y2="179.7"/>
<line x1="381.7" x2="381.7" y1="182.1" y2="179.7"/>
<line x1="398.1" x2="398.1" y1="182.1" y2="179.7"/>
<line x1="414.5" x2="414.5" y1="182.1" y2="179.7"/>
<line x1="430.9" x2="430.9" y1="182.1" y2="179.7"/>
<line x1="447.3" x2="447.3" y1="182.1" y2="179.7"/>
<line x1="463.7" x2="463.7" y1="182.1" y2="179.7"/>
<line x1="480.1" x2="480.1" y1="182.1" y2="179.7"/>
<line x1="496.5" x2="496.5" y1="182.1" y2="179.7"/>
<line x1="512.9" x2="512.9" y1="182.1" y2="179.7"/>
<line x1="529.3" x2="529.3" y1="182.1" y2="179.7"/>
</g>
<g fill="#fb0007" stroke="#7a0000" stroke-width="0.45">
<rect x="345.62" y="180.30" width="6.56" height="1.80"/>
<rect x="352.18" y="179.40" width="6.56" height="2.70"/>
<rect x="358.74" y="178.00" width="6.56" height="4.10"/>
<rect x="365.30" y="170.10" width="6.56" height="12.00"/>
<rect x="371.86" y="166.20" width="6.56" height="15.90"/>
<rect x="378.42" y="157.50" width="6.56" height="24.60"/>
<rect x="384.98" y="159.10" width="6.56" height="23.00"/>
<rect x="391.54" y="126.00" width="6.56" height="56.10"/>
<rect x="398.10" y="120.50" width="6.56" height="61.60"/>
<rect x="404.66" y="147.90" width="6.56" height="34.20"/>
<rect x="411.22" y="146.80" width="6.56" height="35.30"/>
<rect x="417.78" y="154.80" width="6.56" height="27.30"/>
<rect x="424.34" y="163.20" width="6.56" height="18.90"/>
<rect x="430.90" y="168.50" width="6.56" height="13.60"/>
<rect x="437.46" y="175.30" width="6.56" height="6.80"/>
</g>
<line x1="345.6" x2="444.0" y1="182.0" y2="182.0" stroke="#f01018" stroke-width="1"/>
<g font-size="8" fill="#000" text-anchor="end">
<text transform="translate(327.9,184.6) scale(0.9,1)">0</text>
<text transform="translate(327.9,157.2) scale(0.9,1)">20</text>
<text transform="translate(327.9,129.8) scale(0.9,1)">40</text>
</g>
<rect x="414.5" y="110.7" width="20.3" height="9.4" fill="#fb0007"/>
<text x="437.6" y="118.6" font-size="9.4" fill="#000">12 nm film dewetting</text>
<text x="414.5" y="129.8" font-size="9.25" fill="#000">Coverage: 20.8%</text>
<g stroke="#111" stroke-width="0.9">
<line x1="332.3" x2="336.1" y1="223.1" y2="223.1"/>
<line x1="529.5" x2="526.1" y1="223.1" y2="223.1"/>
<line x1="332.3" x2="336.1" y1="189.1" y2="189.1"/>
<line x1="529.5" x2="526.1" y1="189.1" y2="189.1"/>
<line x1="332.3" x2="334.1" y1="240.2" y2="240.2"/>
<line x1="529.5" x2="527.7" y1="240.2" y2="240.2"/>
<line x1="332.3" x2="334.1" y1="206.1" y2="206.1"/>
<line x1="529.5" x2="527.7" y1="206.1" y2="206.1"/>
<line x1="332.5" x2="332.5" y1="257.6" y2="255.20000000000002"/>
<line x1="348.9" x2="348.9" y1="257.6" y2="255.20000000000002"/>
<line x1="365.3" x2="365.3" y1="257.6" y2="255.20000000000002"/>
<line x1="381.7" x2="381.7" y1="257.6" y2="255.20000000000002"/>
<line x1="398.1" x2="398.1" y1="257.6" y2="255.20000000000002"/>
<line x1="414.5" x2="414.5" y1="257.6" y2="255.20000000000002"/>
<line x1="430.9" x2="430.9" y1="257.6" y2="255.20000000000002"/>
<line x1="447.3" x2="447.3" y1="257.6" y2="255.20000000000002"/>
<line x1="463.7" x2="463.7" y1="257.6" y2="255.20000000000002"/>
<line x1="480.1" x2="480.1" y1="257.6" y2="255.20000000000002"/>
<line x1="496.5" x2="496.5" y1="257.6" y2="255.20000000000002"/>
<line x1="512.9" x2="512.9" y1="257.6" y2="255.20000000000002"/>
<line x1="529.3" x2="529.3" y1="257.6" y2="255.20000000000002"/>
</g>
<g fill="#fb0007" stroke="#7a0000" stroke-width="0.45">
<rect x="339.06" y="255.40" width="6.56" height="2.20"/>
<rect x="345.62" y="250.80" width="6.56" height="6.80"/>
<rect x="352.18" y="250.80" width="6.56" height="6.80"/>
<rect x="358.74" y="245.10" width="6.56" height="12.50"/>
<rect x="365.30" y="216.10" width="6.56" height="41.50"/>
<rect x="371.86" y="196.70" width="6.56" height="60.90"/>
<rect x="378.42" y="188.70" width="6.56" height="68.90"/>
<rect x="384.98" y="200.80" width="6.56" height="56.80"/>
<rect x="391.54" y="213.80" width="6.56" height="43.80"/>
<rect x="398.10" y="233.20" width="6.56" height="24.40"/>
<rect x="404.66" y="253.30" width="6.56" height="4.30"/>
<rect x="411.22" y="254.90" width="6.56" height="2.70"/>
</g>
<line x1="332.5" x2="417.8" y1="257.5" y2="257.5" stroke="#f01018" stroke-width="1"/>
<g font-size="8" fill="#000" text-anchor="end">
<text transform="translate(327.9,260.1) scale(0.9,1)">0</text>
<text transform="translate(327.9,226.0) scale(0.9,1)">50</text>
<text transform="translate(327.9,192.0) scale(0.9,1)">100</text>
</g>
<rect x="412.9" y="187.6" width="20.5" height="9.5" fill="#fb0007"/>
<text x="436.4" y="195.4" font-size="9.4" fill="#000">10 nm film dewetting</text>
<text x="412.9" y="207.1" font-size="9.25" fill="#000">Coverage: 19.3%</text>
<g stroke="#111" stroke-width="0.9">
<line x1="332.3" x2="336.1" y1="310.9" y2="310.9"/>
<line x1="529.5" x2="526.1" y1="310.9" y2="310.9"/>
<line x1="332.3" x2="336.1" y1="289.0" y2="289.0"/>
<line x1="529.5" x2="526.1" y1="289.0" y2="289.0"/>
<line x1="332.3" x2="336.1" y1="267.1" y2="267.1"/>
<line x1="529.5" x2="526.1" y1="267.1" y2="267.1"/>
<line x1="332.3" x2="334.1" y1="321.9" y2="321.9"/>
<line x1="529.5" x2="527.7" y1="321.9" y2="321.9"/>
<line x1="332.3" x2="334.1" y1="299.9" y2="299.9"/>
<line x1="529.5" x2="527.7" y1="299.9" y2="299.9"/>
<line x1="332.3" x2="334.1" y1="278.1" y2="278.1"/>
<line x1="529.5" x2="527.7" y1="278.1" y2="278.1"/>
<line x1="332.5" x2="332.5" y1="333.3" y2="329.5"/>
<line x1="348.9" x2="348.9" y1="333.3" y2="331.5"/>
<line x1="365.3" x2="365.3" y1="333.3" y2="329.5"/>
<line x1="381.7" x2="381.7" y1="333.3" y2="331.5"/>
<line x1="398.1" x2="398.1" y1="333.3" y2="329.5"/>
<line x1="414.5" x2="414.5" y1="333.3" y2="331.5"/>
<line x1="430.9" x2="430.9" y1="333.3" y2="329.5"/>
<line x1="447.3" x2="447.3" y1="333.3" y2="331.5"/>
<line x1="463.7" x2="463.7" y1="333.3" y2="329.5"/>
<line x1="480.1" x2="480.1" y1="333.3" y2="331.5"/>
<line x1="496.5" x2="496.5" y1="333.3" y2="329.5"/>
<line x1="512.9" x2="512.9" y1="333.3" y2="331.5"/>
<line x1="529.3" x2="529.3" y1="333.3" y2="329.5"/>
</g>
<g fill="#fb0007" stroke="#7a0000" stroke-width="0.45">
<rect x="332.50" y="329.10" width="6.56" height="4.20"/>
<rect x="339.06" y="307.00" width="6.56" height="26.30"/>
<rect x="345.62" y="275.80" width="6.56" height="57.50"/>
<rect x="352.18" y="268.20" width="6.56" height="65.10"/>
<rect x="358.74" y="279.20" width="6.56" height="54.10"/>
<rect x="365.30" y="292.20" width="6.56" height="41.10"/>
<rect x="371.86" y="302.00" width="6.56" height="31.30"/>
<rect x="378.42" y="311.10" width="6.56" height="22.20"/>
<rect x="384.98" y="323.40" width="6.56" height="9.90"/>
<rect x="391.54" y="329.80" width="6.56" height="3.50"/>
<rect x="398.10" y="332.10" width="6.56" height="1.20"/>
</g>
<line x1="332.5" x2="404.7" y1="333.2" y2="333.2" stroke="#f01018" stroke-width="1"/>
<g font-size="8" fill="#000" text-anchor="end">
<text transform="translate(327.9,335.7) scale(0.9,1)">0</text>
<text transform="translate(327.9,313.8) scale(0.9,1)">100</text>
<text transform="translate(327.9,291.9) scale(0.9,1)">200</text>
<text transform="translate(327.9,270.0) scale(0.9,1)">300</text>
</g>
<rect x="420.8" y="261" width="20.6" height="9.5" fill="#fb0007"/>
<text x="444.4" y="268.8" font-size="9.4" fill="#000">8 nm film dewetting</text>
<text x="420.8" y="280.2" font-size="9.25" fill="#000">Coverage: 21.6%</text>
<g font-size="12.7" fill="#000" text-anchor="middle">
<text x="332.2" y="24.4">0</text>
<text x="365.0" y="24.4">50</text>
<text x="397.8" y="24.4">100</text>
<text x="430.6" y="24.4">150</text>
<text x="463.4" y="24.4">200</text>
<text x="496.2" y="24.4">250</text>
<text x="529.0" y="24.4">300</text>
</g>
<g font-size="10.3" fill="#000" text-anchor="middle">
<text x="332.5" y="346.1">0</text>
<text x="365.3" y="346.1">50</text>
<text x="398.1" y="346.1">100</text>
<text x="430.9" y="346.1">150</text>
<text x="463.7" y="346.1">200</text>
<text x="496.5" y="346.1">250</text>
<text x="529.3" y="346.1">300</text>
</g>
<text x="430.8" y="367.2" font-size="13.6" fill="#000" text-anchor="middle">Diameter (nm)</text>
<text transform="translate(309.2,172.3) rotate(-90)" font-size="13.3" fill="#000" text-anchor="middle">Count (#)</text>
</g>
</svg>
</body>
</html>
